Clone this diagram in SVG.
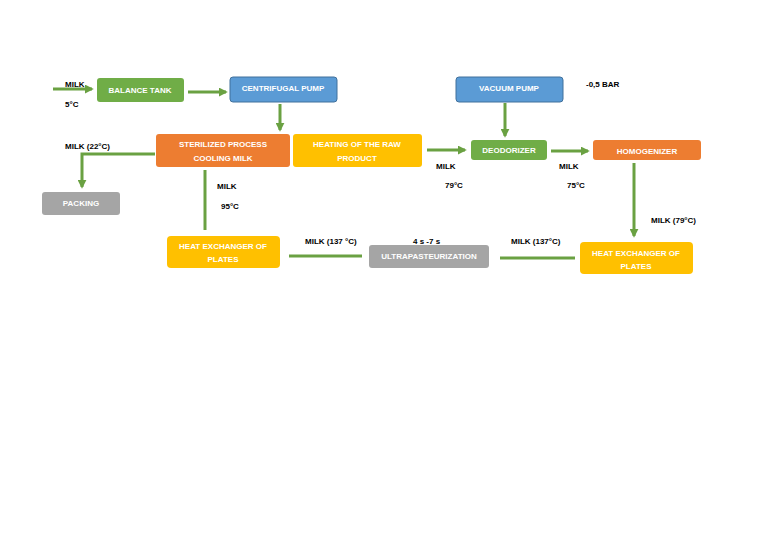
<svg xmlns="http://www.w3.org/2000/svg" width="768" height="543" viewBox="0 0 768 543">
<style>
text{font-family:"Liberation Sans",Arial,sans-serif;font-weight:bold;font-size:8px}
.n{fill:#fff;text-anchor:middle}
.l{fill:#000}
.c{stroke:#6aa142;stroke-width:3;fill:none}
.g{fill:#70AD47}.b{fill:#5B9BD5;stroke:#41719c}.o{fill:#ED7D31}.y{fill:#FFC000}.x{fill:#A5A5A5}
</style>
<defs><marker id="a" viewBox="0 0 10 10" refX="8" refY="5" markerWidth="3" markerHeight="3" orient="auto"><path d="M0,0L10,5L0,10z" fill="#6aa142"/></marker></defs>
<rect width="768" height="543" fill="#fff"/>
<g id="connectors">
<path class="c" d="M53,89H92" marker-end="url(#a)"/>
<path class="c" d="M188,92H226" marker-end="url(#a)"/>
<path class="c" d="M280,104V130" marker-end="url(#a)"/>
<path class="c" d="M155,154H82V187" marker-end="url(#a)"/>
<path class="c" d="M427,150H465" marker-end="url(#a)"/>
<path class="c" d="M505,103V136" marker-end="url(#a)"/>
<path class="c" d="M551,151H588" marker-end="url(#a)"/>
<path class="c" d="M634,163V236" marker-end="url(#a)"/>
<path class="c" d="M500,258H575"/>
<path class="c" d="M289,256H362"/>
<path class="c" d="M205,170V230"/>
</g>
<g id="balance"><rect class="g" x="97" y="78" width="87" height="24" rx="3"/><text class="n" x="140" y="93">BALANCE TANK</text></g>
<g id="centrifugal"><rect class="b" x="230" y="77" width="107" height="25" rx="3"/><text class="n" x="283" y="91">CENTRIFUGAL PUMP</text></g>
<g id="sterilized"><rect class="o" x="156" y="134" width="134" height="33" rx="3"/><text class="n" x="223" y="147">STERILIZED PROCESS</text><text class="n" x="223" y="161">COOLING MILK</text></g>
<g id="heating"><rect class="y" x="293" y="134" width="129" height="33" rx="3"/><text class="n" x="357" y="147">HEATING OF THE RAW</text><text class="n" x="357" y="161">PRODUCT</text></g>
<g id="packing"><rect class="x" x="42" y="192" width="78" height="23" rx="3"/><text class="n" x="81" y="206">PACKING</text></g>
<g id="vacuum"><rect class="b" x="456" y="77" width="107" height="25" rx="3"/><text class="n" x="509" y="91">VACUUM PUMP</text></g>
<g id="deodorizer"><rect class="g" x="471" y="140" width="76" height="20" rx="3"/><text class="n" x="509" y="153">DEODORIZER</text></g>
<g id="homogenizer"><rect class="o" x="593" y="140" width="108" height="20" rx="3"/><text class="n" x="647" y="154">HOMOGENIZER</text></g>
<g id="hxleft"><rect class="y" x="167" y="236" width="113" height="32" rx="4"/><text class="n" x="223" y="249">HEAT EXCHANGER OF</text><text class="n" x="223" y="262">PLATES</text></g>
<g id="ultra"><rect class="x" x="369" y="245" width="120" height="23" rx="3"/><text class="n" x="429" y="259">ULTRAPASTEURIZATION</text></g>
<g id="hxright"><rect class="y" x="580" y="242" width="113" height="32" rx="4"/><text class="n" x="636" y="256">HEAT EXCHANGER OF</text><text class="n" x="636" y="269">PLATES</text></g>
<g id="labels">
<text class="l" x="65" y="87">MILK</text><text class="l" x="65" y="107">5°C</text>
<text class="l" x="65" y="149">MILK (22°C)</text>
<text class="l" x="217" y="189">MILK</text><text class="l" x="221" y="209">95°C</text>
<text class="l" x="436" y="169">MILK</text><text class="l" x="445" y="188">79°C</text>
<text class="l" x="559" y="169">MILK</text><text class="l" x="567" y="188">75°C</text>
<text class="l" x="586" y="87">-0,5 BAR</text>
<text class="l" x="651" y="223">MILK  (79°C)</text>
<text class="l" x="305" y="244">MILK (137 °C)</text>
<text class="l" x="413" y="244">4 s -7 s</text>
<text class="l" x="511" y="244">MILK (137°C)</text>
</g>
</svg>
